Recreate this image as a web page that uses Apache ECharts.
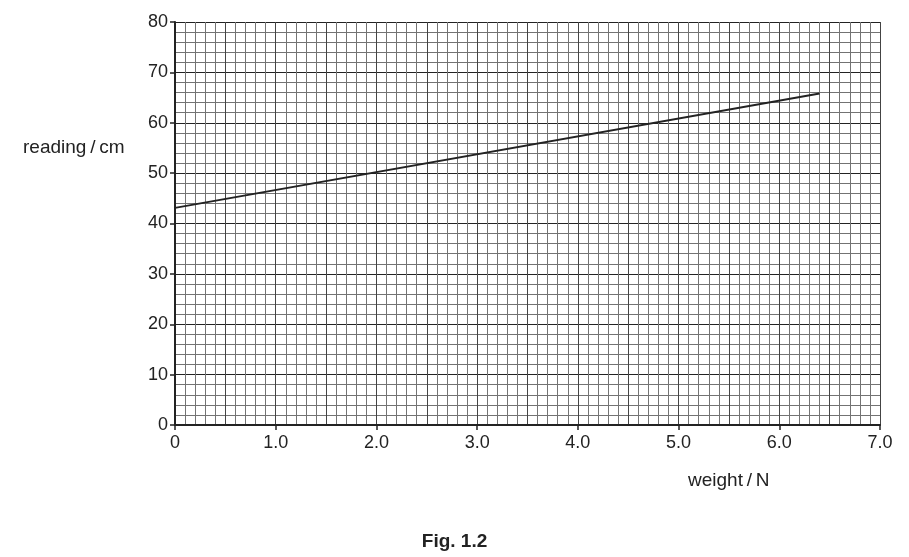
<!DOCTYPE html>
<html>
<head>
<meta charset="utf-8">
<script src="https://cdn.jsdelivr.net/npm/echarts@6/dist/echarts.min.js"></script>
<style>
  html, body { margin: 0; padding: 0; background: #fff; }
  #chart { width: 909px; height: 557px; }
</style>
</head>
<body>
<div id="chart"></div>
<script>
// line
var weightN = [0, 6.4]
var readingCm = [43.1, 65.8]

var xLabels = ['0', '1.0', '2.0', '3.0', '4.0', '5.0', '6.0', '7.0']
var yLabels = ['0', '10', '20', '30', '40', '50', '60', '70', '80']

var font = 'Liberation Sans, Arial, sans-serif'
var chart = echarts.init(document.getElementById('chart'))

var points = weightN.map(function(w, i) { return [w, readingCm[i]] })

var option = {
  animation: false,
  backgroundColor: '#fff',
  title: {
    text: 'Fig. 1.2',
    left: 'center',
    top: 527,
    textStyle: { fontFamily: font, fontSize: 19, fontWeight: 'bold', color: '#222' }
  },
  grid: { left: 175, right: 29, top: 22, bottom: 132 },
  xAxis: [
    {
      type: 'value',
      min: 0,
      max: 7,
      interval: 1,
      axisLine: { show: true, onZero: false, lineStyle: { color: '#222', width: 2 } },
      axisTick: { show: true, length: 5, lineStyle: { color: '#222', width: 1.5 } },
      axisLabel: {
        fontFamily: font, fontSize: 18, color: '#222', margin: 9,
        formatter: function(v) { return xLabels[Math.round(v)] }
      },
      splitLine: { show: true, lineStyle: { color: '#222', width: 1 } },
      minorTick: { show: false, splitNumber: 10 },
      minorSplitLine: { show: true, lineStyle: { color: '#737373', width: 1 } }
    },
    {
      // half-newton lines are a bit darker
      type: 'value',
      min: 0,
      max: 7,
      interval: 0.5,
      position: 'bottom',
      axisLine: { show: false },
      axisTick: { show: false },
      axisLabel: { show: false },
      splitLine: { show: true, lineStyle: { color: '#444', width: 1 } }
    }
  ],
  yAxis: {
    type: 'value',
    min: 0,
    max: 80,
    interval: 10,
    axisLine: { show: true, onZero: false, lineStyle: { color: '#222', width: 2 } },
    axisTick: { show: true, length: 5, lineStyle: { color: '#222', width: 1.5 } },
    axisLabel: {
      fontFamily: font, fontSize: 18, color: '#222', margin: 7,
      formatter: function(v) { return yLabels[Math.round(v / 10)] }
    },
    splitLine: { show: true, lineStyle: { color: '#222', width: 1 } },
    minorTick: { show: false, splitNumber: 5 },
    minorSplitLine: { show: true, lineStyle: { color: '#737373', width: 1 } }
  },
  graphic: [
    {
      type: 'text', left: 23, top: 138,
      style: { text: 'reading\u2009/\u2009cm', fontFamily: font, fontSize: 19, fill: '#222' }
    },
    {
      type: 'text', left: 688, top: 471,
      style: { text: 'weight\u2009/\u2009N', fontFamily: font, fontSize: 19, fill: '#222' }
    }
  ],
  series: [
    {
      type: 'line',
      xAxisIndex: 0,
      data: points,
      symbol: 'none',
      lineStyle: { color: '#222', width: 2 },
      z: 5
    }
  ]
}

chart.setOption(option)
</script>
</body>
</html>
